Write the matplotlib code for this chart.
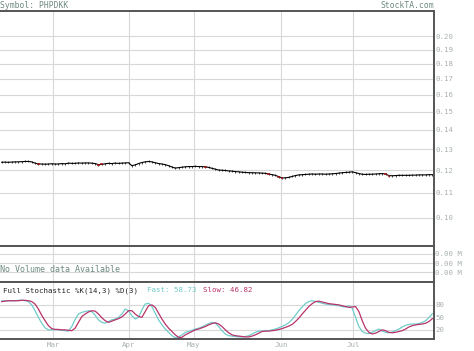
import matplotlib
matplotlib.use("Agg")
import matplotlib.pyplot as plt
from matplotlib.ticker import FixedLocator, NullLocator


# [1] Chart data
SYMBOL = "PHPDKK"

CLOSES = [
    .1236, .1237, .1236, .1237, .1238, .1238, .1239, .1240, .1240, .1238,
    .1232, .1228, .1228, .1227, .1228, .1229, .1228, .1228, .1230, .1229,
    .1232, .1231, .1231, .1233, .1232, .1233, .1233, .1232, .1230, .1225,
    .1226, .1229, .1231, .1230, .1232, .1231, .1232, .1233, .1234, .1220,
    .1224, .1230, .1235, .1238, .1240, .1238, .1234, .1230, .1228, .1225,
    .1220, .1214, .1209, .1211, .1213, .1215, .1216, .1216, .1217, .1216,
    .1216, .1215, .1212, .1208, .1204, .1200, .1199, .1198, .1196, .1195,
    .1193, .1192, .1190, .1189, .1188, .1188, .1187, .1187, .1186, .1185,
    .1182, .1179, .1176, .1170, .1164, .1165, .1167, .1171, .1175, .1178,
    .1179, .1180, .1181, .1182, .1181, .1182, .1182, .1181, .1182, .1183,
    .1184, .1186, .1188, .1189, .1190, .1192, .1188, .1184, .1181, .1180,
    .1181, .1181, .1182, .1183, .1184, .1182, .1175, .1174, .1175, .1176,
    .1176, .1176, .1176, .1177, .1177, .1178, .1178, .1178, .1179, .1179,
]

RED_BARS = [11, 29, 30, 61, 80, 83, 84, 115, 116]

STOCH_FAST = [
    89, 90, 90, 90, 90, 91, 91, 90, 88, 80,
    66, 50, 36, 25, 20, 20, 21, 20, 19, 18,
    17, 28, 45, 58, 62, 64, 66, 64, 55, 44,
    38, 36, 40, 44, 46, 50, 58, 70, 66, 54,
    46, 50, 68, 82, 84, 76, 60, 44, 32, 22,
    14, 6, 1, 3, 8, 14, 16, 19, 22, 24,
    27, 31, 35, 38, 36, 28, 18, 10, 6, 5,
    4, 3, 3, 4, 6, 10, 14, 17, 17, 18,
    18, 20, 22, 25, 28, 32, 37, 45, 55, 66,
    75, 83, 88, 90, 88, 86, 84, 82, 81, 80,
    79, 78, 76, 75, 78, 72, 50, 28, 16, 12,
    11, 14, 18, 22, 17, 14, 13, 15, 18, 22,
    27, 31, 33, 34, 34, 35, 38, 42, 50, 58.73,
]

STOCH_SLOW = [
    88, 89, 90, 90, 90, 90, 91, 91, 90, 88,
    82, 70, 55, 42, 30, 23, 21, 21, 20, 20,
    19, 18, 24, 38, 52, 58, 63, 66, 65, 58,
    49, 42, 38, 41, 44, 47, 51, 58, 66, 66,
    58, 52, 50, 64, 78, 80, 74, 60, 46, 34,
    24, 16, 8, 2, 2, 8, 12, 16, 20, 22,
    25, 28, 32, 35, 37, 34, 28, 20, 13, 8,
    6, 5, 4, 3, 3, 5, 8, 12, 16, 17,
    17, 18, 19, 21, 23, 26, 29, 33, 40, 48,
    58, 67, 76, 83, 88, 89, 87, 85, 83, 82,
    81, 80, 78, 76, 74, 75, 76, 64, 42, 24,
    14, 10, 12, 16, 20, 18, 14, 13, 14, 16,
    18, 22, 27, 30, 32, 33, 34, 36, 40, 46.82,
]

MONTH_LABELS = ["Mar", "Apr", "May", "Jun", "Jul"]
MONTH_POS = [15.4, 38.1, 57.6, 83.7, 105.3]

PRICE_TICKS = [0.10, 0.11, 0.12, 0.13, 0.14, 0.15, 0.16, 0.17, 0.18, 0.19, 0.20]
VOL_TICKS = [0.27, 0.52, 0.78]
VOL_LABELS = ["0.00 M", "0.00 M", "0.00 M"]
STOCH_TICKS = [20, 50, 80]


# [2] Styles
FONT = "DejaVu Sans Mono"
GRID = "#d8d8d8"
FRAME = "#555555"
LABEL = "#a8b0b0"
HEAD = "#6f8a80"
FAST_C = "#70cccc"
SLOW_C = "#b8336a"

W, H = 474, 351
RIGHT = 434 / W


def fy(px):
    return 1 - px / H


def style_axes(ax):
    ax.spines["left"].set_visible(False)
    for side in ["top", "right", "bottom"]:
        ax.spines[side].set_color(FRAME)
        ax.spines[side].set_linewidth(1.4)
    ax.set_xlim(-0.5, len(CLOSES) - 0.5)
    ax.xaxis.set_major_locator(FixedLocator(MONTH_POS))
    ax.yaxis.tick_right()
    ax.tick_params(axis="both", length=0, labelsize=5.3, labelcolor=LABEL, pad=1)
    ax.grid(True, color=GRID, linewidth=0.8)
    ax.set_axisbelow(True)


def mono_labels(ax):
    for lab in ax.get_yticklabels() + ax.get_xticklabels():
        lab.set_family(FONT)


# [3] Figure
fig = plt.figure(figsize=(W / 100, H / 100), dpi=100)

ax_p = fig.add_axes([0, fy(246), RIGHT, fy(11) - fy(246)])
ax_v = fig.add_axes([0, fy(282), RIGHT, fy(246) - fy(282)])
ax_s = fig.add_axes([0, fy(339), RIGHT, fy(282) - fy(339)])

# price panel
x = list(range(len(CLOSES)))
ax_p.set_yscale("log")
ax_p.set_ylim(0.0898, 0.2202)
ax_p.plot(x, CLOSES, color="black", linewidth=0.8, marker="|", markersize=1.6,
          markeredgewidth=0.5)
for i in RED_BARS:
    ax_p.plot([i - 0.4, i + 0.4], [CLOSES[i], CLOSES[i]], color="#a01818",
              linewidth=1.1, solid_capstyle="butt")
style_axes(ax_p)
ax_p.yaxis.set_minor_locator(NullLocator())
ax_p.set_yticks(PRICE_TICKS, [f"{t:.2f}" for t in PRICE_TICKS])
ax_p.yaxis.set_minor_locator(NullLocator())
ax_p.set_xticklabels([])
mono_labels(ax_p)

# volume panel
ax_v.set_ylim(0, 1)
style_axes(ax_v)
ax_v.set_yticks(VOL_TICKS, VOL_LABELS)
ax_v.set_xticklabels([])
mono_labels(ax_v)
ax_v.text(0.0, 0.36, "No Volume data Available", transform=ax_v.transAxes,
          family=FONT, fontsize=6, color=HEAD, va="center", ha="left")

# stochastic panel
ax_s.set_ylim(-2, 135)
ax_s.plot(x, STOCH_FAST, color=FAST_C, linewidth=0.9)
ax_s.plot(x, STOCH_SLOW, color=SLOW_C, linewidth=0.9)
style_axes(ax_s)
ax_s.set_yticks(STOCH_TICKS, [str(t) for t in STOCH_TICKS])
ax_s.set_xticks(MONTH_POS, MONTH_LABELS)
ax_s.tick_params(axis="x", pad=2)
mono_labels(ax_s)

ty = fy(290.5)
fig.text(3 / W, ty, "Full Stochastic %K(14,3) %D(3)", family=FONT, fontsize=5.3,
         color="#222222", va="center")
fig.text(147 / W, ty, f"Fast: {STOCH_FAST[-1]:.2f}", family=FONT, fontsize=5.3,
         color=FAST_C, va="center")
fig.text(203 / W, ty, f"Slow: {STOCH_SLOW[-1]:.2f}", family=FONT, fontsize=5.3,
         color=SLOW_C, va="center")

# header
fig.text(0, fy(5), f"Symbol: {SYMBOL}", family=FONT, fontsize=5.8, color=HEAD,
         va="center", ha="left")
fig.text(RIGHT, fy(5), "StockTA.com", family=FONT, fontsize=5.8, color=HEAD,
         va="center", ha="right")

fig.savefig("out.png", dpi=100)
